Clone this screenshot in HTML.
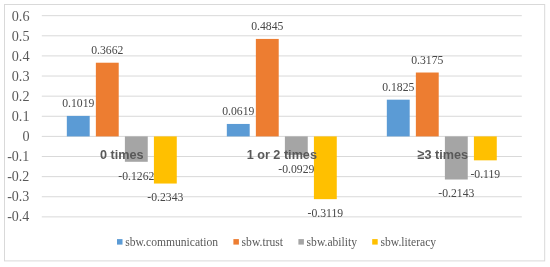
<!DOCTYPE html>
<html><head><meta charset="utf-8"><title>chart</title>
<style>html,body{margin:0;padding:0;background:#fff}svg{display:block}</style></head>
<body>
<svg width="550" height="267" viewBox="0 0 550 267">
<rect x="0" y="0" width="550" height="267" fill="#fff"/>
<rect x="4.5" y="4.5" width="540.2" height="256.4" fill="#fff" stroke="#d9d9d9" stroke-width="1"/>
<line x1="41.8" x2="521.8" y1="216.88" y2="216.88" stroke="#d9d9d9" stroke-width="1"/>
<line x1="41.8" x2="521.8" y1="196.76" y2="196.76" stroke="#d9d9d9" stroke-width="1"/>
<line x1="41.8" x2="521.8" y1="176.64" y2="176.64" stroke="#d9d9d9" stroke-width="1"/>
<line x1="41.8" x2="521.8" y1="156.52" y2="156.52" stroke="#d9d9d9" stroke-width="1"/>
<line x1="41.8" x2="521.8" y1="136.40" y2="136.40" stroke="#d9d9d9" stroke-width="1"/>
<line x1="41.8" x2="521.8" y1="116.28" y2="116.28" stroke="#d9d9d9" stroke-width="1"/>
<line x1="41.8" x2="521.8" y1="96.16" y2="96.16" stroke="#d9d9d9" stroke-width="1"/>
<line x1="41.8" x2="521.8" y1="76.04" y2="76.04" stroke="#d9d9d9" stroke-width="1"/>
<line x1="41.8" x2="521.8" y1="55.92" y2="55.92" stroke="#d9d9d9" stroke-width="1"/>
<line x1="41.8" x2="521.8" y1="35.80" y2="35.80" stroke="#d9d9d9" stroke-width="1"/>
<line x1="41.8" x2="521.8" y1="15.68" y2="15.68" stroke="#d9d9d9" stroke-width="1"/>
<g font-family="'Liberation Serif', 'Times New Roman', serif" font-size="14.2" fill="#595959" text-anchor="end">
<text x="29.3" y="221.40" font-size="14">-0.4</text>
<text x="29.3" y="201.32" font-size="14">-0.3</text>
<text x="29.3" y="181.25" font-size="14">-0.2</text>
<text x="29.3" y="161.17" font-size="14">-0.1</text>
<text x="29.5" y="141.10">0</text>
<text x="29.5" y="121.10">0.1</text>
<text x="29.5" y="101.10">0.2</text>
<text x="29.5" y="81.10">0.3</text>
<text x="29.5" y="61.10">0.4</text>
<text x="29.5" y="41.10">0.5</text>
<text x="29.5" y="21.10">0.6</text>
</g>
<rect x="66.83" y="115.90" width="22.86" height="20.50" fill="#5B9BD5"/>
<rect x="95.86" y="62.72" width="22.86" height="73.68" fill="#ED7D31"/>
<rect x="124.89" y="136.40" width="22.86" height="25.39" fill="#A5A5A5"/>
<rect x="153.91" y="136.40" width="22.86" height="47.14" fill="#FFC000"/>
<rect x="226.83" y="123.95" width="22.86" height="12.45" fill="#5B9BD5"/>
<rect x="255.86" y="38.92" width="22.86" height="97.48" fill="#ED7D31"/>
<rect x="284.89" y="136.40" width="22.86" height="18.69" fill="#A5A5A5"/>
<rect x="313.91" y="136.40" width="22.86" height="62.75" fill="#FFC000"/>
<rect x="386.83" y="99.68" width="22.86" height="36.72" fill="#5B9BD5"/>
<rect x="415.86" y="72.52" width="22.86" height="63.88" fill="#ED7D31"/>
<rect x="444.89" y="136.40" width="22.86" height="43.12" fill="#A5A5A5"/>
<rect x="473.91" y="136.40" width="22.86" height="23.94" fill="#FFC000"/>
<g font-family="'Liberation Sans', Arial, sans-serif" font-weight="bold" font-size="13.7" fill="#595959" text-anchor="middle">
<text transform="translate(121.80,159.1) scale(0.924,1)">0 times</text>
<text transform="translate(281.80,159.1) scale(0.924,1)">1 or 2 times</text>
<text transform="translate(442.80,159.1) scale(0.924,1)">≥3 times</text>
</g>
<g font-family="'Liberation Serif', 'Times New Roman', serif" font-size="11.7" fill="#484848" text-anchor="middle">
<text x="78.26" y="107.20">0.1019</text>
<text x="107.29" y="54.02">0.3662</text>
<text x="136.31" y="179.59">-0.1262</text>
<text x="165.34" y="201.34">-0.2343</text>
<text x="238.26" y="115.25">0.0619</text>
<text x="267.29" y="30.22">0.4845</text>
<text x="296.31" y="172.89">-0.0929</text>
<text x="325.34" y="216.95">-0.3119</text>
<text x="398.26" y="90.98">0.1825</text>
<text x="427.29" y="63.82">0.3175</text>
<text x="456.31" y="197.32">-0.2143</text>
<text x="485.34" y="178.14">-0.119</text>
</g>
<g font-family="'Liberation Serif', 'Times New Roman', serif" font-size="11.6" fill="#595959">
<rect x="117.0" y="239.1" width="5.5" height="5.5" fill="#5B9BD5"/>
<text x="125.2" y="245.5">sbw.communication</text>
<rect x="233.4" y="239.1" width="5.5" height="5.5" fill="#ED7D31"/>
<text x="241.6" y="245.5">sbw.trust</text>
<rect x="298.4" y="239.1" width="5.5" height="5.5" fill="#A5A5A5"/>
<text x="306.6" y="245.5">sbw.ability</text>
<rect x="372.2" y="239.1" width="5.5" height="5.5" fill="#FFC000"/>
<text x="380.5" y="245.5">sbw.literacy</text>
</g>
</svg>
</body></html>
